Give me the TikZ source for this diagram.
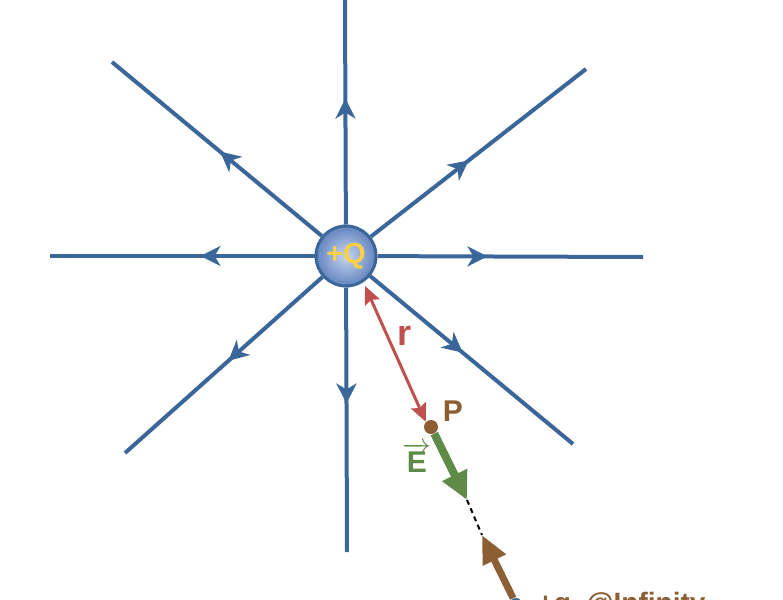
\documentclass[tikz,border=0pt]{standalone}
\usepackage{fontspec}
\setmainfont{Liberation Sans}
\usetikzlibrary{arrows.meta,decorations.markings}
\definecolor{fieldblue}{RGB}{59,102,153}
\definecolor{distred}{RGB}{192,80,77}
\definecolor{pbrown}{RGB}{140,94,52}
\definecolor{egreen}{RGB}{94,140,72}
\definecolor{qgold}{RGB}{250,208,70}
\begin{document}
\begin{tikzpicture}[x=0.5pt,y=-0.5pt,
  fieldline/.style={draw=fieldblue, line width=2pt,
    postaction={decorate},
    decoration={markings, mark=at position #1 with {\arrow[fieldblue]{Stealth[length=10pt,width=10pt,inset=3pt]}}}},
  fieldline/.default=60pt,
  lbl/.style={font=\bfseries\fontsize{15}{18}\selectfont, inner sep=0pt}]
\useasboundingbox (0,0) rectangle (783,600);
\node[circle, minimum size=30pt, draw=fieldblue, line width=1.5pt, inner color={rgb,255:red,200;green,214;blue,240}, outer color={rgb,255:red,98;green,132;blue,190}, text=qgold, font=\bfseries\fontsize{14.5}{16}\selectfont, inner sep=0pt] (Q) at (346,256) {+Q};
\coordinate (fup) at (345,0);
\coordinate (fdown) at (347,552);
\coordinate (fleft) at (50,256);
\coordinate (fright) at (643,257);
\coordinate (ful) at (112,62);
\coordinate (fur) at (586,69);
\coordinate (fdl) at (125,453);
\coordinate (fdr) at (573,444);
\draw[fieldline=63pt](Q) -- (fup);
\draw[fieldline=58pt](Q) -- (fdown);
\draw[fieldline=57pt](Q) -- (fleft);
\draw[fieldline=55pt](Q) -- (fright);
\draw[fieldline=66pt](Q) -- (ful);
\draw[fieldline=62pt](Q) -- (fur);
\draw[fieldline=63pt](Q) -- (fdl);
\draw[fieldline=60pt](Q) -- (fdr);
\node[circle, fill=pbrown, inner sep=0pt, minimum size=7pt] (P) at (431,427) {};
\coordinate (rtop) at (365,286);
\draw[distred, line width=1.5pt, {Stealth[length=9pt,width=8pt,inset=1.5pt]}-{Stealth[length=9pt,width=8pt,inset=1.5pt]}](rtop) -- (P.north west);
\node[lbl, text=distred, font=\bfseries\fontsize{18}{21}\selectfont] (rlbl) at (405,336) {r};
\node[lbl, text=pbrown] (Plbl) at (453,411) {P};
\coordinate (etip) at (467,500);
\draw[egreen, line width=4pt, -{Triangle[length=14pt,width=13pt]}](P) -- (etip);
\node[lbl, text=egreen] (Elbl) at (417,458) {$\overrightarrow{\mbox{\bfseries\fontsize{15}{18}\selectfont E}}$};
\coordinate (qtip) at (482,535);
\node[circle, fill=fieldblue, inner sep=0pt, minimum size=6pt] (qinf) at (516,604) {};
\draw[black, line width=1pt, dash pattern=on 2.5pt off 2pt](etip) -- (qtip);
\draw[pbrown, line width=3.5pt, -{Triangle[length=14pt,width=12pt]}](qinf) -- (qtip);
\node[lbl, text=pbrown, anchor=base west, font=\bfseries\fontsize{14}{17}\selectfont] (qlbl) at (537,612) {+q~~@Infinity};
\end{tikzpicture}
\end{document}
